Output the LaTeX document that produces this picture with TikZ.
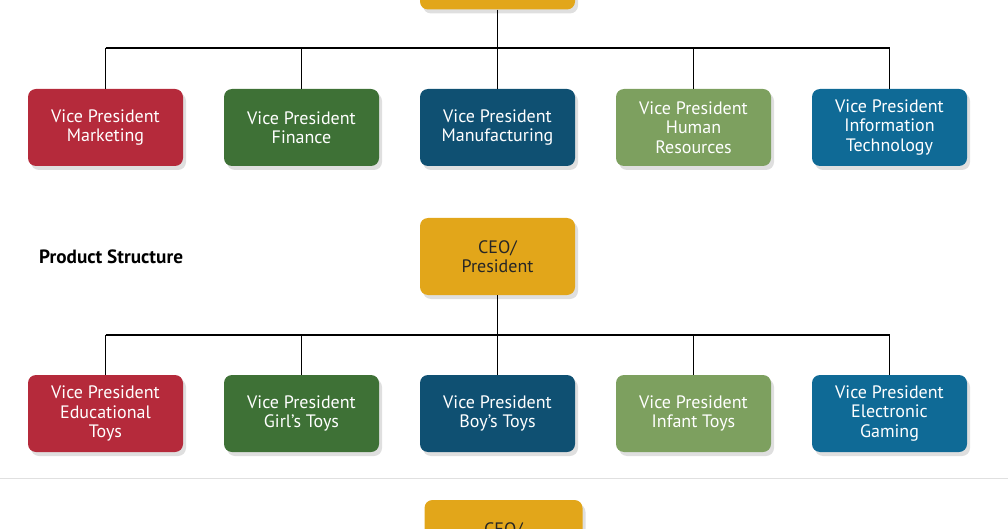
\documentclass[tikz,border=0pt]{standalone}
\usepackage{fontspec}
\setmainfont{PT Sans}
\usetikzlibrary{shadows}
\definecolor{cred}{HTML}{B52A3B}
\definecolor{cgreen}{HTML}{3E7136}
\definecolor{cdblue}{HTML}{0F5072}
\definecolor{clgreen}{HTML}{7DA05F}
\definecolor{cblue}{HTML}{0F6A96}
\definecolor{cgold}{HTML}{E2A61A}
\begin{document}
\begin{tikzpicture}[x=1pt,y=-1pt,
  box/.style={rounded corners=8pt,minimum width=155pt,minimum height=77pt,text=white,align=center,font=\fontsize{18}{19.5}\selectfont,inner sep=2pt,drop shadow={shadow xshift=3pt,shadow yshift=-4pt,opacity=0.25}},
  ceo/.style={box,fill=cgold,text=black!85},
  conn/.style={draw=black,line width=1.6pt}]
\useasboundingbox (0,0) rectangle (1008,529);
\clip (0,0) rectangle (1008,529);
% top chart
\node[ceo] (c1) at (497.5,-29) {CEO/\\President};
\node[box,fill=cred] (a1) at (105.5,127.5) {Vice President\\Marketing};
\node[box,fill=cgreen] (a2) at (301.5,127.5) {Vice President\\Finance};
\node[box,fill=cdblue] (a3) at (497.5,127.5) {Vice President\\Manufacturing};
\node[box,fill=clgreen] (a4) at (693.5,127.5) {Vice President\\Human\\Resources};
\node[box,fill=cblue] (a5) at (889.5,127.5) {Vice President\\Information\\Technology};
\coordinate (h1) at (497.5,48);
\draw[conn] (c1.south) -- (h1);
\foreach \i in {1,...,5} \draw[conn] (h1 -| a\i.north) -- (a\i.north);
\draw[conn] (h1 -| a1.north) -- (h1 -| a5.north);
% product structure
\node[font=\fontsize{19.2}{21}\selectfont\bfseries,anchor=west,inner sep=0pt] (ps) at (39,257) {Product Structure};
\node[ceo] (c2) at (497.5,256.5) {CEO/\\President};
\node[box,fill=cred] (b1) at (105.5,413.5) {Vice President\\Educational\\Toys};
\node[box,fill=cgreen] (b2) at (301.5,413.5) {Vice President\\Girl{\char"0027}s Toys};
\node[box,fill=cdblue] (b3) at (497.5,413.5) {Vice President\\Boy{\char"0027}s Toys};
\node[box,fill=clgreen] (b4) at (693.5,413.5) {Vice President\\Infant Toys};
\node[box,fill=cblue] (b5) at (889.5,413.5) {Vice President\\Electronic\\Gaming};
\coordinate (h2) at (497.5,335);
\draw[conn] (c2.south) -- (h2);
\foreach \i in {1,...,5} \draw[conn] (h2 -| b\i.north) -- (b\i.north);
\draw[conn] (h2 -| b1.north) -- (h2 -| b5.north);
% separator
\draw[black!12,line width=1pt] (0,478) -- (1008,478);
\node[ceo,minimum width=158pt] (c3) at (503.5,538.5) {CEO/\\President};
\end{tikzpicture}
\end{document}
